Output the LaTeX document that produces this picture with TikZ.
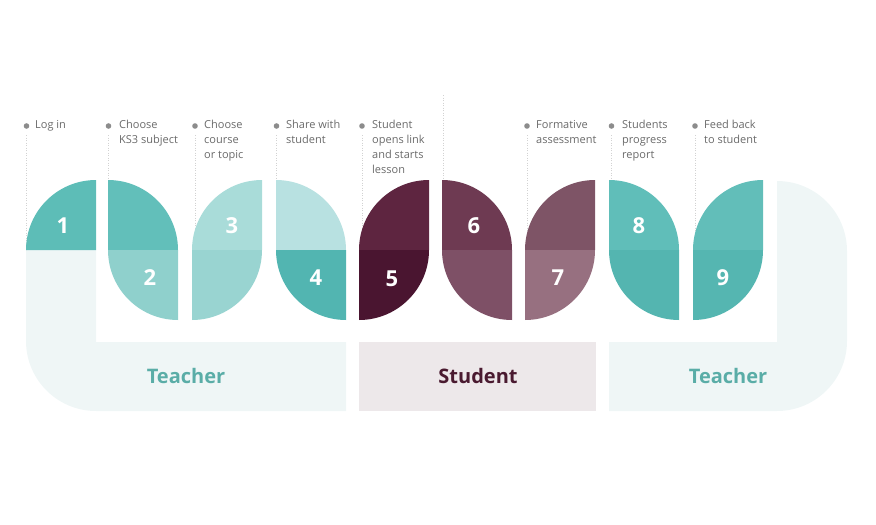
\documentclass[tikz,border=0pt]{standalone}
\usepackage{fontspec}
\setmainfont{Open Sans}
\definecolor{tbg}{HTML}{EFF6F6}
\definecolor{sbg}{HTML}{EDE8EA}
\definecolor{cA}{HTML}{5DBDB7}
\definecolor{cBu}{HTML}{62BFBA}
\definecolor{cBl}{HTML}{8FD0CC}
\definecolor{cCu}{HTML}{A9DCD9}
\definecolor{cCl}{HTML}{99D4D1}
\definecolor{cDu}{HTML}{B8E1E1}
\definecolor{cDl}{HTML}{52B5B1}
\definecolor{cEu}{HTML}{5E2540}
\definecolor{cEl}{HTML}{4A1530}
\definecolor{cFu}{HTML}{6E3A52}
\definecolor{cFl}{HTML}{7E5066}
\definecolor{cGu}{HTML}{7E5466}
\definecolor{cGl}{HTML}{977080}
\definecolor{cHu}{HTML}{60BEB9}
\definecolor{cHl}{HTML}{54B5B0}
\definecolor{cIu}{HTML}{62BEB9}
\definecolor{cIl}{HTML}{55B6B1}
\definecolor{txtgray}{HTML}{6A6A6A}
\definecolor{dotgray}{HTML}{8C8C8C}
\definecolor{teachtxt}{HTML}{5AADA7}
\definecolor{studtxt}{HTML}{4A1A30}
\newcommand\legA[3]{%
  \fill[#2] (#1,-180) arc[start angle=90,end angle=0,radius=70] -- (#1,-250) -- cycle;
  \fill[#3] (#1+70,-250) -- (#1,-250) arc[start angle=180,end angle=270,radius=70] -- cycle;}
\newcommand\legB[3]{%
  \fill[#2] (#1+70,-250) -- (#1,-250) arc[start angle=180,end angle=90,radius=70] -- cycle;
  \fill[#3] (#1,-250) -- (#1+70,-250) arc[start angle=0,end angle=-90,radius=70] -- cycle;}
\begin{document}
\begin{tikzpicture}[x=1pt,y=1pt,
  lbl/.style={anchor=north west,inner sep=0pt,align=left,text=txtgray,font=\fontsize{11}{15}\selectfont},
  num/.style={text=white,inner sep=0pt,font=\fontsize{22}{24}\selectfont\bfseries},
  band/.style={inner sep=0pt,font=\fontsize{20}{22}\selectfont\bfseries},
  guide/.style={draw=gray!35,dotted,line width=0.5pt},
  bullet/.style={fill=dotgray}]
\useasboundingbox (0,0) rectangle (876,-525);
% backgrounds
\fill[tbg] (26,-250) -- (96,-250) -- (96,-342) -- (346,-342) -- (346,-411) -- (96,-411)
  arc[start angle=270,end angle=180,radius=70] -- cycle;
\fill[sbg] (359,-342) rectangle (596,-411);
\fill[tbg] (609,-342) -- (777,-342) -- (777,-181) arc[start angle=90,end angle=0,radius=70]
  -- (847,-341) arc[start angle=0,end angle=-90,radius=70] -- (609,-411) -- cycle;
% guide lines
\draw[guide] (26.5,-135) -- (26.5,-250);
\draw[guide] (108.5,-135) -- (108.5,-181);
\draw[guide] (195,-135) -- (195,-245);
\draw[guide] (276.5,-135) -- (276.5,-181);
\draw[guide] (362,-135) -- (362,-250);
\draw[guide] (443,-95) -- (443,-181);
\draw[guide] (527,-135) -- (527,-250);
\draw[guide] (611.5,-135) -- (611.5,-181);
\draw[guide] (695,-135) -- (695,-250);
% pieces
\fill[cA] (96,-250) -- (26,-250) arc[start angle=180,end angle=90,radius=70] -- cycle;
\legA{108}{cBu}{cBl}
\legB{192}{cCu}{cCl}
\legA{276}{cDu}{cDl}
\legB{359}{cEu}{cEl}
\legA{442}{cFu}{cFl}
\legB{525}{cGu}{cGl}
\legA{609}{cHu}{cHl}
\legB{693}{cIu}{cIl}
% numbers
\node[num] (n1) at (63,-226) {1};
\node[num] (n2) at (150,-278) {2};
\node[num] (n3) at (232,-226) {3};
\node[num] (n4) at (316,-278) {4};
\node[num] (n5) at (392,-279) {5};
\node[num] (n6) at (474,-226) {6};
\node[num] (n7) at (558,-278) {7};
\node[num] (n8) at (639,-226) {8};
\node[num] (n9) at (723,-278) {9};
% bullets and labels
\foreach \bx in {26.5,108.5,195,276.5,362,527,611.5,695}
  \fill[bullet] (\bx,-126) circle[radius=2.8];
\node[lbl] (l1) at (35,-120) {Log in};
\node[lbl] (l2) at (119,-120) {Choose\\KS3 subject};
\node[lbl] (l3) at (204,-120) {Choose\\course\\or topic};
\node[lbl] (l4) at (286,-120) {Share with\\student};
\node[lbl] (l5) at (372,-120) {Student\\opens link\\and starts\\lesson};
\node[lbl] (l7) at (536,-120) {Formative\\assessment};
\node[lbl] (l8) at (622,-120) {Students\\progress\\report};
\node[lbl] (l9) at (704,-120) {Feed back\\to student};
% band labels
\node[band,text=teachtxt] (t1) at (186,-375.5) {Teacher};
\node[band,text=studtxt] (s1) at (478,-375.5) {Student};
\node[band,text=teachtxt] (t2) at (728,-375.5) {Teacher};
\end{tikzpicture}
\end{document}
